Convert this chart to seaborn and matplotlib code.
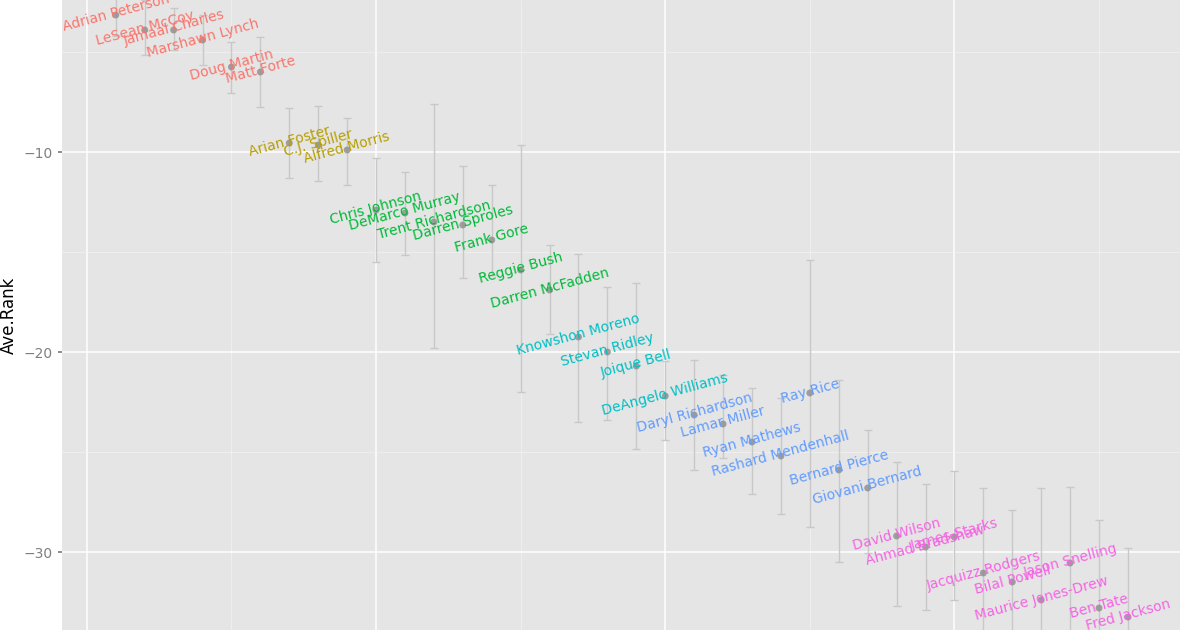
import matplotlib
matplotlib.use("Agg")
import matplotlib.pyplot as plt
import seaborn as sns
import numpy as np
import pandas as pd

players = ["Adrian Peterson","LeSean McCoy","Jamaal Charles","Marshawn Lynch","Doug Martin","Matt Forte",
           "Arian Foster","C.J. Spiller","Alfred Morris",
           "Chris Johnson","DeMarco Murray","Trent Richardson","Darren Sproles","Frank Gore","Reggie Bush","Darren McFadden",
           "Knowshon Moreno","Stevan Ridley","Joique Bell","DeAngelo Williams",
           "Daryl Richardson","Lamar Miller","Ryan Mathews","Rashard Mendenhall","Ray Rice","Bernard Pierce","Giovani Bernard",
           "David Wilson","Ahmad Bradshaw","James Starks","Jacquizz Rodgers","Bilal Powell","Maurice Jones-Drew","Jason Snelling","Ben Tate","Fred Jackson"]
tiers = [1]*6 + [2]*3 + [3]*7 + [4]*4 + [5]*7 + [6]*9
ave_rank = [-3.15,-3.9,-3.9,-4.4,-5.75,-6.0,
            -9.55,-9.65,-9.9,
            -12.9,-13.05,-13.5,-13.65,-14.4,-15.9,-16.9,
            -19.25,-20.0,-20.7,-22.2,
            -23.15,-23.6,-24.5,-25.2,-22.05,-25.9,-26.8,
            -29.2,-29.75,-29.25,-31.05,-31.5,-32.4,-30.55,-32.8,-33.25]
err_hi = [-1.5,-2.4,-2.8,-3.15,-4.5,-4.25,
          -7.8,-7.7,-8.3,
          -10.3,-11.0,-7.6,-10.7,-11.65,-9.65,-14.65,
          -15.1,-16.75,-16.55,-20.45,
          -20.4,-21.15,-21.8,-22.3,-15.4,-21.4,-23.9,
          -25.5,-26.6,-25.95,-26.8,-27.9,-26.8,-26.75,-28.4,-29.8]
err_lo = [-4.2,-5.15,-4.9,-5.65,-7.05,-7.75,
          -11.3,-11.45,-11.65,
          -15.5,-15.15,-19.8,-16.3,-16.15,-22.0,-19.1,
          -23.5,-23.4,-24.85,-24.4,
          -25.9,-25.3,-27.1,-28.1,-28.75,-30.5,-30.05,
          -32.7,-32.9,-32.4,-34.0,-34.0,-34.0,-34.0,-34.0,-34.0]

palette = {1:"#F8766D",2:"#B79F00",3:"#00BA38",4:"#00BFC4",5:"#619CFF",6:"#F564E3"}

df = pd.DataFrame({"x": np.arange(1, len(players)+1), "player": players, "tier": tiers,
                   "rank": ave_rank, "hi": err_hi, "lo": err_lo})

sns.set_theme(style="darkgrid", rc={"axes.facecolor": "#E5E5E5", "grid.color": "white"})
fig = plt.figure(figsize=(12, 6.3), dpi=100)
ax = fig.add_axes([62/1200, 0, 1118/1200, 1])

ax.errorbar(df["x"], df["rank"], yerr=[df["rank"]-df["lo"], df["hi"]-df["rank"]],
            fmt="none", ecolor="#C8C8C8", elinewidth=1, capsize=3, zorder=2)
sns.scatterplot(data=df, x="x", y="rank", color="#8C8C8C", s=25, alpha=0.8,
                edgecolor="none", ax=ax, zorder=3, legend=False)
for _, r in df.iterrows():
    ax.text(r["x"], r["rank"]+0.1, r["player"], color=palette[r["tier"]], fontsize=10,
            rotation=15, ha="center", va="center", zorder=4)

ax.set_xlim(-0.86, 37.8)
ax.set_ylim(-33.9, -2.4)
ax.set_xticks([0, 10, 20, 30])
ax.set_xticks([5, 15, 25, 35], minor=True)
ax.set_yticks([-10, -20, -30])
ax.set_yticks([-5, -15, -25], minor=True)
ax.grid(which="major", color="white", linewidth=1.1)
ax.grid(which="minor", color="#F2F2F2", linewidth=0.5)
ax.tick_params(axis="y", colors="#7F7F7F", labelsize=10, length=3, left=True)
ax.tick_params(axis="x", labelbottom=False)
ax.set_xlabel("")
ax.set_ylabel("Ave.Rank", fontsize=12, color="black")
for s in ax.spines.values():
    s.set_visible(False)
fig.savefig("out.png", dpi=100)
